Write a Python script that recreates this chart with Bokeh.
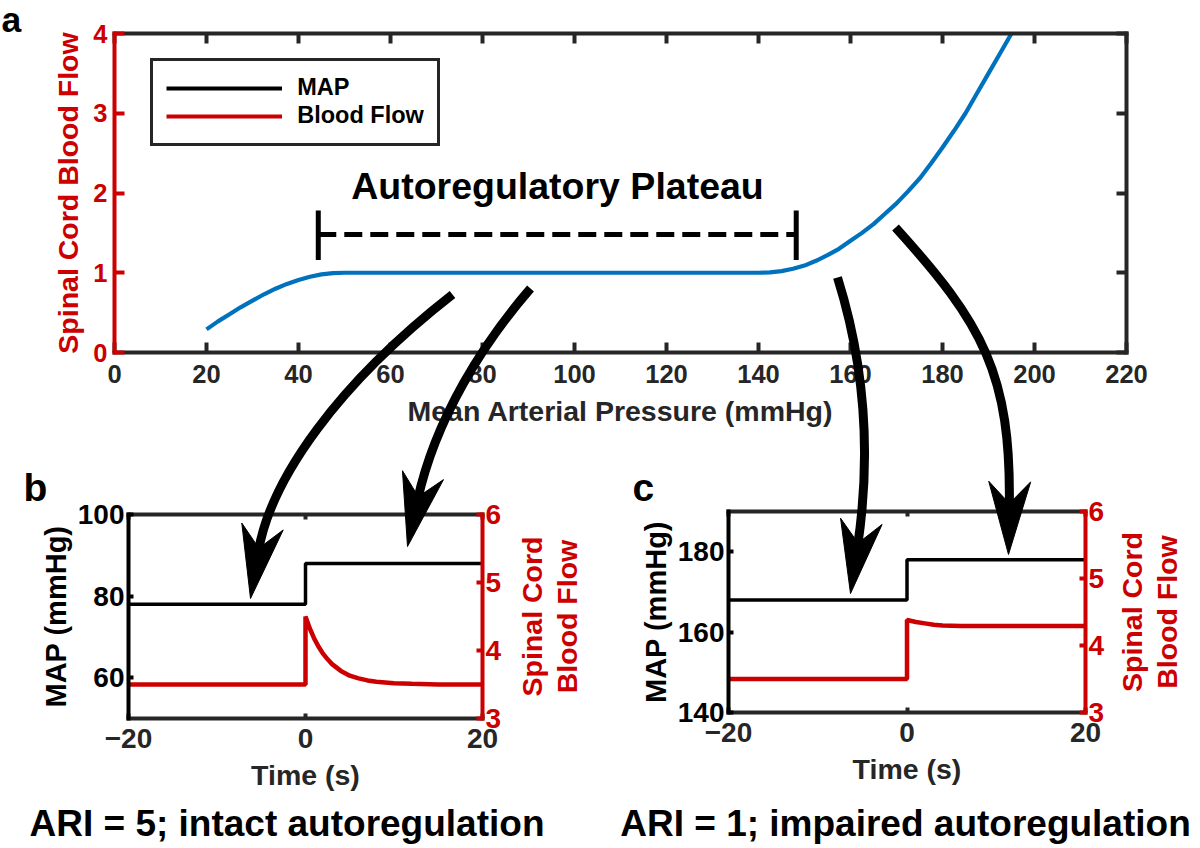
import math
from bokeh.plotting import figure
from bokeh.models import Range1d, LinearAxis, FixedTicker, Legend, LegendItem, GridBox
from bokeh.core.properties import value
from bokeh.embed import file_html
from bokeh.resources import INLINE

# ---------------- data ----------------
# panel a: autoregulation curve (MAP in mmHg vs relative spinal cord blood flow)
curve_map = [20, 22.5, 25, 27.5, 30, 32.5, 35, 37.5, 40, 42.5, 45, 47.5, 50, 60, 80, 100, 120,
             140, 142.5, 145, 147.5, 150, 152.5, 155, 157.5, 160, 162.5, 165, 167.5, 170,
             172.5, 175, 177.5, 180, 182.5, 185, 187.5, 190, 192.5, 195]
curve_flow = [0.29, 0.39, 0.48, 0.57, 0.65, 0.73, 0.80, 0.86, 0.91, 0.95, 0.98, 0.995, 1.0, 1.0, 1.0, 1.0, 1.0,
              1.0, 1.005, 1.02, 1.05, 1.09, 1.15, 1.22, 1.30, 1.40, 1.50, 1.61, 1.74, 1.87,
              2.02, 2.18, 2.37, 2.57, 2.78, 3.0, 3.25, 3.5, 3.75, 4.0]
plateau_bounds = [44.3, 148.2]
x_ticks_a = [0, 20, 40, 60, 80, 100, 120, 140, 160, 180, 200, 220]
y_ticks_a = [0, 1, 2, 3, 4]

# panel b: intact autoregulation
b_map_t = [-20, 0, 0, 20]
b_map = [78, 78, 88, 88]
b_flow_t = [-20, 0, 0, 0.5, 1, 1.5, 2, 2.5, 3, 4, 5, 6, 7, 8, 10, 12, 15, 20]
b_flow = [3.5, 3.5, 4.5, 4.32, 4.17, 4.05, 3.95, 3.87, 3.80, 3.70, 3.63, 3.59, 3.56, 3.54, 3.52, 3.51, 3.50, 3.50]

# panel c: impaired autoregulation
c_map_t = [-20, 0, 0, 20]
c_map = [168, 168, 178, 178]
c_flow_t = [-20, 0, 0, 1, 2, 3, 4, 6, 10, 20]
c_flow = [3.5, 3.5, 4.38, 4.35, 4.33, 4.31, 4.30, 4.29, 4.29, 4.29]

time_ticks = [-20, 0, 20]
flow_ticks = [3, 4, 5, 6]
flow_label_lines = ["Spinal Cord", "Blood Flow"]

# ---------------- style ----------------
S = 1.0
RED = "#CC0000"
BLUE = "#0072BD"
AX = "#262626"
FONT = "Liberation Sans"
BASE_SHIFT = 0.36          # em offset between requested and drawn text baseline
TOT_W = round(1200 * S)
TOT_H = round(848 * S)
ROW0_H = round(460 * S)
ROW1_H = TOT_H - ROW0_H
HALF_W = TOT_W // 2


def fpx(v):
    return f"{v * S:.1f}px"


def no_align(p):
    try:
        p.frame_align = False
    except Exception:
        pass


def style_axis(ax, line_color, text_color, font, tick_len, standoff, label_font=None,
               label_color=None, label_standoff=5, hide_labels=False):
    ax.axis_line_color = line_color
    ax.axis_line_width = 4 * S
    ax.axis_line_cap = "square"
    ax.major_tick_line_color = line_color
    ax.major_tick_line_width = 4 * S
    ax.major_tick_in = round(tick_len * S)
    ax.major_tick_out = 0
    ax.minor_tick_line_color = None
    ax.major_label_text_font = FONT
    ax.major_label_text_font_style = "bold"
    ax.major_label_text_color = text_color
    ax.major_label_text_font_size = fpx(font)
    ax.major_label_standoff = round(standoff * S)
    if hide_labels:
        ax.major_label_overrides = {float(t): "" for t in ax.ticker.ticks}
        ax.major_label_text_font_size = "1px"
        ax.major_label_standoff = 0
    if label_font is not None:
        ax.axis_label_text_font = FONT
        ax.axis_label_text_font_style = "bold"
        ax.axis_label_text_font_size = fpx(label_font)
        ax.axis_label_text_color = label_color
        ax.axis_label_standoff = round(label_standoff * S)


# ---------------- panel a ----------------
pa = figure(width=TOT_W, height=ROW0_H, x_range=Range1d(0, 220), y_range=Range1d(0, 4),
            output_backend="svg", toolbar_location=None,
            x_axis_location=None, y_axis_location=None, outline_line_color=None,
            min_border_left=round(114.3 * S), min_border_right=TOT_W - round(1126.5 * S),
            min_border_top=round(33.3 * S), min_border_bottom=ROW0_H - round(352.3 * S))
no_align(pa)
pa.grid.visible = False

ax = LinearAxis(ticker=FixedTicker(ticks=x_ticks_a), axis_label="Mean Arterial Pressure (mmHg)")
style_axis(ax, AX, AX, 25.5, 10, 12, label_font=28.5, label_color=AX, label_standoff=9)
pa.add_layout(ax, "below")
ax = LinearAxis(ticker=FixedTicker(ticks=x_ticks_a))
style_axis(ax, AX, AX, 25.5, 10, 0, hide_labels=True)
pa.add_layout(ax, "above")
ax = LinearAxis(ticker=FixedTicker(ticks=y_ticks_a), axis_label="Spinal Cord Blood Flow")
style_axis(ax, RED, RED, 25.5, 10, 7, label_font=28.5, label_color=RED, label_standoff=6)
pa.add_layout(ax, "left")
ax = LinearAxis(ticker=FixedTicker(ticks=y_ticks_a))
style_axis(ax, AX, AX, 25.5, 10, 0, hide_labels=True)
pa.add_layout(ax, "right")

pa.line(curve_map, curve_flow, line_color=BLUE, line_width=4.2 * S)

# autoregulatory plateau bracket
pa.segment(x0=plateau_bounds, y0=[1.16, 1.16], x1=plateau_bounds, y1=[1.78, 1.78],
           line_color="black", line_width=5 * S)
pa.line(plateau_bounds, [1.48, 1.48], line_color="black", line_width=5 * S, line_dash="18 8")
plateau_font = 37.5
pa.text(x=[96.3], y=[1.92 + BASE_SHIFT * plateau_font / 79.75], text=["Autoregulatory Plateau"],
        text_font=value(FONT), text_font_style="bold", text_font_size=fpx(plateau_font),
        text_align="center", text_baseline="alphabetic", text_color="black")

nan = float("nan")
r_map = pa.line(x=[nan], y=[nan], line_color="black", line_width=4 * S)
r_bf = pa.line(x=[nan], y=[nan], line_color=RED, line_width=4 * S)
leg = Legend(items=[LegendItem(label="MAP", renderers=[r_map]),
                    LegendItem(label="Blood Flow", renderers=[r_bf])],
             location=((150.5 - 114.3) * S, (352.3 - 142) * S - 4), margin=0,
             padding=round(13 * S), spacing=0, glyph_width=round(116 * S),
             glyph_height=round(28 * S), label_height=round(28 * S), label_standoff=round(15 * S),
             label_text_font=FONT, label_text_font_style="bold", label_text_font_size=fpx(23.5),
             label_text_color="black", border_line_color=AX, border_line_width=3.5 * S,
             border_line_alpha=1.0,
             background_fill_color="white", background_fill_alpha=1.0)
pa.add_layout(leg)


# ---------------- panels b, c ----------------
def make_panel(x0_ref, frame_ref, ylo, yhi, yticks, t_map, v_map, t_bf, v_bf):
    left, right, top, bottom = frame_ref
    p = figure(width=HALF_W, height=ROW1_H, x_range=Range1d(-20, 20), y_range=Range1d(ylo, yhi),
               output_backend="svg", toolbar_location=None,
               x_axis_location=None, y_axis_location=None, outline_line_color=None,
               min_border_left=round(left * S) - round(x0_ref * S),
               min_border_right=round(x0_ref * S) + HALF_W - round(right * S),
               min_border_top=round(top * S) - ROW0_H,
               min_border_bottom=TOT_H - round(bottom * S))
    no_align(p)
    p.grid.visible = False
    p.extra_y_ranges = {"bf": Range1d(3, 6)}
    p.line(t_map, v_map, line_color="black", line_width=3.5 * S)
    p.line(t_bf, v_bf, line_color=RED, line_width=4.5 * S, y_range_name="bf")

    a = LinearAxis(ticker=FixedTicker(ticks=time_ticks), axis_label="Time (s)")
    style_axis(a, AX, AX, 28, 5, 10, label_font=28.5, label_color=AX, label_standoff=8)
    p.add_layout(a, "below")
    a = LinearAxis(ticker=FixedTicker(ticks=time_ticks))
    style_axis(a, AX, AX, 28, 5, 0, hide_labels=True)
    p.add_layout(a, "above")
    a = LinearAxis(ticker=FixedTicker(ticks=yticks), axis_label="MAP (mmHg)")
    style_axis(a, "black", "black", 28, 5, 4, label_font=29, label_color="black", label_standoff=3)
    p.add_layout(a, "left")
    a = LinearAxis(ticker=FixedTicker(ticks=flow_ticks), y_range_name="bf")
    style_axis(a, RED, RED, 28, 6, 3)
    p.add_layout(a, "right")
    return p


pb = make_panel(0, (128.3, 481.7, 514.3, 717.7), 50, 100, [60, 80, 100],
                b_map_t, b_map, b_flow_t, b_flow)
pc = make_panel(600, (728.3, 1085, 510.7, 712.3), 140, 190, [140, 160, 180],
                c_map_t, c_map, c_flow_t, c_flow)

# ---------------- overlay: arrows, panel letters, captions ----------------
ov = figure(width=TOT_W, height=TOT_H, x_range=Range1d(0, 1200), y_range=Range1d(848, 0),
            output_backend="svg", toolbar_location=None, min_border=0,
            min_border_left=0, min_border_right=0, min_border_top=0, min_border_bottom=0,
            x_axis_location=None, y_axis_location=None, outline_line_color=None,
            background_fill_alpha=0, border_fill_alpha=0)
no_align(ov)
ov.grid.visible = False

# arrows: start, control 1, control 2, tip (reference-pixel space)
arrows = [
    ((452, 294), (338, 383), (270, 478), (250, 598)),
    ((530, 288), (484, 341), (435, 417), (407, 546)),
    ((837, 277), (864, 363), (871, 453), (850, 593)),
    ((895, 227), (982, 323), (1011, 373), (1008, 554)),
]
HEAD_L, HEAD_W, NOTCH = 73, 21, 22
bx0, by0, bx1, by1, bcx0, bcy0, bcx1, bcy1 = [], [], [], [], [], [], [], []
hx, hy = [], []
for p0, c1, c2, tip in arrows:
    dx, dy = tip[0] - c2[0], tip[1] - c2[1]
    n = math.hypot(dx, dy)
    ux, uy = dx / n, dy / n
    px_, py_ = -uy, ux
    back = (tip[0] - HEAD_L * ux, tip[1] - HEAD_L * uy)
    notch = (back[0] + NOTCH * ux, back[1] + NOTCH * uy)
    end = (notch[0] + 4 * ux, notch[1] + 4 * uy)
    bx0.append(p0[0]); by0.append(p0[1]); bx1.append(end[0]); by1.append(end[1])
    bcx0.append(c1[0]); bcy0.append(c1[1]); bcx1.append(c2[0]); bcy1.append(c2[1])
    hx.append([tip[0], back[0] + HEAD_W * px_, notch[0], back[0] - HEAD_W * px_])
    hy.append([tip[1], back[1] + HEAD_W * py_, notch[1], back[1] - HEAD_W * py_])

ov.bezier(x0=bx0, y0=by0, x1=bx1, y1=by1, cx0=bcx0, cy0=bcy0, cx1=bcx1, cy1=bcy1,
          line_color="black", line_width=9 * S, line_cap="butt")
ov.patches(hx, hy, fill_color="black", line_color="black", line_width=1)

# right-axis titles of panels b and c (two lines, reading upward)
ov.text(x=[531, 566, 1131, 1166], y=[616, 616, 611.5, 611.5],
        text=flow_label_lines + flow_label_lines, angle=math.pi / 2,
        text_font=value(FONT), text_font_style="bold", text_font_size=fpx(28.5),
        text_align="center", text_baseline="alphabetic", text_color=RED)

# panel letters (drawn baseline: a at 32.5, b and c at 501)
a_font = 35.5
ov.text(x=[1], y=[32.5 - BASE_SHIFT * a_font], text=["a"], text_font=value(FONT),
        text_font_style="bold", text_font_size=fpx(a_font), text_align="left",
        text_baseline="alphabetic", text_color="black")
letter_font = 39
ov.text(x=[23, 632], y=[v - BASE_SHIFT * letter_font for v in (501, 501)],
        text=["b", "c"], text_font=value(FONT),
        text_font_style="bold", text_font_size=fpx(letter_font), text_align="left",
        text_baseline="alphabetic", text_color="black")
ari_font = 37
ov.text(x=[286.5, 905], y=[836 - BASE_SHIFT * ari_font] * 2,
        text=["ARI = 5; intact autoregulation", "ARI = 1; impaired autoregulation"],
        text_font=value(FONT), text_font_style="bold", text_font_size=fpx(ari_font),
        text_align="center", text_baseline="alphabetic", text_color="black")

grid = GridBox(children=[(pa, 0, 0, 1, 2), (pb, 1, 0, 1, 1), (pc, 1, 1, 1, 1), (ov, 0, 0, 2, 2)],
               spacing=0)

open("out.html", "w").write(file_html(grid, INLINE))
